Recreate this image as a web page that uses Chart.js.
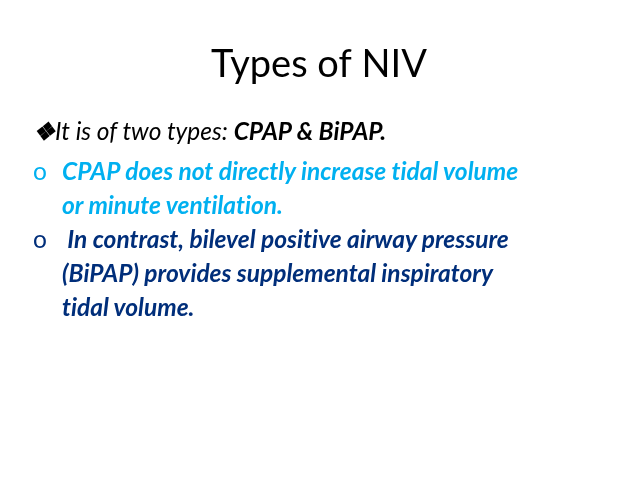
<!DOCTYPE html>
<html>
<head>
<meta charset="utf-8">
<script src="https://cdn.jsdelivr.net/npm/chart.js@4"></script>
<style>
  body { margin:0; width:638px; height:478px; background:#fff; overflow:hidden; font-family:Lato, "Open Sans", sans-serif; font-variant-ligatures:none; }
  #wrap { position:absolute; left:0; top:0; width:638px; height:478px; }
  .txt { position:absolute; left:33px; top:114px; width:600px; font-size:24.5px; line-height:34px; font-style:italic; font-weight:bold; white-space:nowrap; }
  .row { position:relative; padding-left:29px; }
  .mk { position:absolute; left:0; font-style:normal; font-weight:normal; }
  .first { padding-left:0; color:#000; margin-bottom:6px; }
  .cyan { color:#00b0f0; }
  .navy { color:#002e7a; }
</style>
</head>
<body>
<div id="wrap"><canvas id="c" width="638" height="478"></canvas></div>
<div class="txt">
  <div class="row first">❖<span style="font-weight:normal">It is of two types: </span>CPAP &amp; BiPAP.</div>
  <div class="row cyan"><span class="mk" style="color:#00b0f0">o</span>CPAP does not directly increase tidal volume<br>or minute ventilation.</div>
  <div class="row navy"><span class="mk" style="color:#002e7a">o</span>&nbsp;In contrast, bilevel positive airway pressure<br>(BiPAP) provides supplemental inspiratory<br>tidal volume.</div>
</div>
<script>
// slide title only, no plotted series
const titleText = 'Types of NIV';
const labels = [];
const values = [];

new Chart(document.getElementById('c'), {
  type: 'bar',
  data: { labels: labels, datasets: [{ data: values }] },
  options: {
    responsive: false,
    animation: false,
    plugins: {
      legend: { display: false },
      tooltip: { enabled: false },
      title: {
        display: true, text: titleText, color: '#000',
        font: { family: 'Lato', size: 38, weight: 'normal' },
        padding: { top: 42, bottom: 0 }
      }
    },
    scales: { x: { display: false }, y: { display: false } }
  }
});
</script>
</body>
</html>
